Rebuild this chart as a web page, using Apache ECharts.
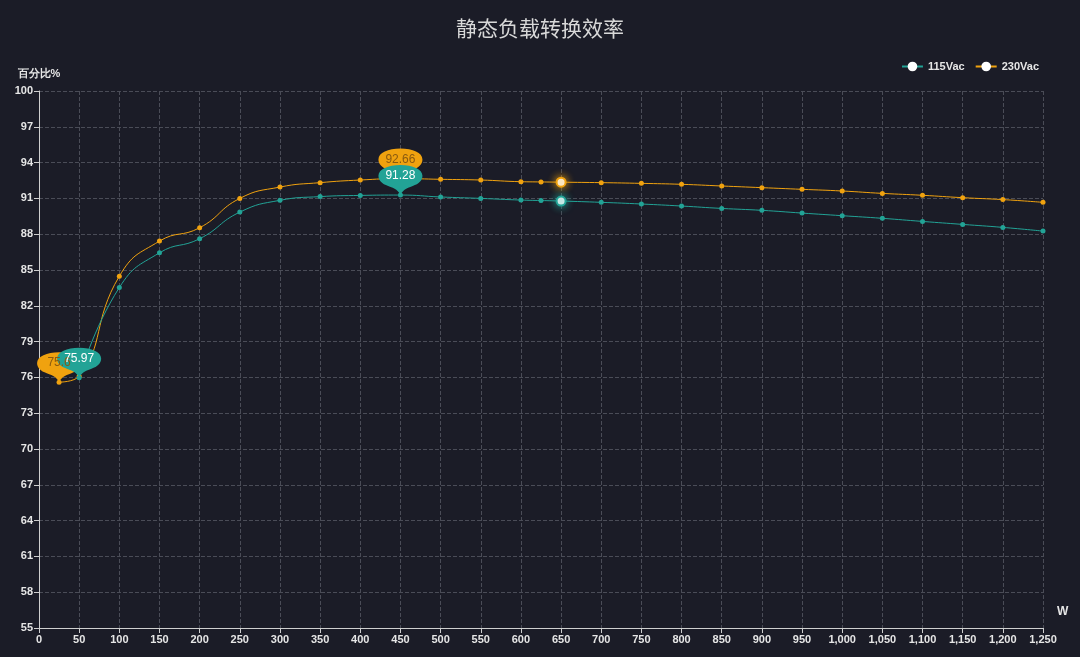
<!DOCTYPE html>
<html>
<head>
<meta charset="utf-8">
<script src="https://cdn.jsdelivr.net/npm/echarts@6/dist/echarts.min.js"></script>
<style>
  html, body { margin: 0; padding: 0; background: #1b1c27; }
  #main { width: 1080px; height: 657px; }
</style>
</head>
<body>
<div id="main"></div>
<script>
// 负载 (W)
var loadW = [25, 50, 100, 150, 200, 250, 300, 350, 400, 450, 500, 550, 600, 625, 650,
  700, 750, 800, 850, 900, 950, 1000, 1050, 1100, 1150, 1200, 1250];
// 115Vac 效率 (无 25W 点)
var eff115 = [null, 75.97, 83.53, 86.44, 87.62, 89.85, 90.84, 91.15, 91.25, 91.28, 91.12, 91.0, 90.86, 90.82, 90.78,
  90.67, 90.53, 90.36, 90.16, 90.0, 89.77, 89.55, 89.33, 89.07, 88.82, 88.57, 88.26];
// 230Vac 效率
var eff230 = [75.6, 76.1, 84.48, 87.42, 88.54, 91.0, 91.95, 92.32, 92.54, 92.66, 92.6, 92.54, 92.4, 92.38, 92.36,
  92.32, 92.26, 92.18, 92.04, 91.9, 91.76, 91.62, 91.42, 91.26, 91.06, 90.9, 90.67];
var seriesNames = ['115Vac', '230Vac'];
var colors = ['#22a396', '#f0a20f'];
var labelColors = ['#ffffff', '#8a5a10'];
var hoverW = 650;

// 扁平的气泡标记
var pinPath = 'path://M50 100 C46 86 38 78 22 70 C8 63 0 52 0 36 C0 14 22 0 50 0 C78 0 100 14 100 36 C100 52 92 63 78 70 C62 78 54 86 50 100 Z';

function buildData(vals, color) {
  var out = [];
  for (var i = 0; i < loadW.length; i++) {
    if (vals[i] == null) continue;
    var item = { value: [loadW[i], vals[i]] };
    if (color && loadW[i] === hoverW) {
      item.symbolSize = 9;
      item.itemStyle = { color: '#fff', borderColor: color, borderWidth: 2, shadowBlur: 8, shadowColor: color };
    }
    out.push(item);
  }
  return out;
}

function pinMarks(idx, labelOnly) {
  return {
    symbol: pinPath,
    symbolSize: [44, 30],
    symbolOffset: [0, '-50%'],
    z: labelOnly ? 10 : 5,
    itemStyle: { color: labelOnly ? 'rgba(0,0,0,0)' : colors[idx] },
    label: { show: labelOnly, color: labelColors[idx], fontSize: 12, offset: [0, -4] },
    data: [{ type: 'max', name: '最大值' }, { type: 'min', name: '最小值' }]
  };
}

function makeSeries(idx, vals) {
  return {
    name: seriesNames[idx],
    type: 'line',
    smooth: true,
    symbol: 'circle',
    symbolSize: 5,
    itemStyle: { color: colors[idx] },
    lineStyle: { width: 1, color: colors[idx] },
    data: buildData(vals, colors[idx]),
    markPoint: pinMarks(idx, false)
  };
}

// 只画气泡里的数字, 让两个气泡的文字都在最上层
function labelLayer(idx, vals) {
  return {
    name: seriesNames[idx] + '-label',
    type: 'line',
    silent: true,
    symbol: 'none',
    lineStyle: { opacity: 0 },
    data: buildData(vals, null),
    markPoint: pinMarks(idx, true)
  };
}

var chart = echarts.init(document.getElementById('main'));

var option = {
  backgroundColor: '#1b1c27',
  color: colors,
  title: {
    text: '静态负载转换效率',
    left: 'center',
    top: 13,
    textStyle: { color: '#d8d8d8', fontSize: 21, fontWeight: 'normal', fontFamily: 'Noto Sans CJK SC' }
  },
  legend: {
    data: seriesNames,
    right: 36,
    top: 56,
    itemWidth: 21,
    itemHeight: 12,
    itemGap: 10,
    itemStyle: { color: '#fff', borderColor: 'inherit', borderWidth: 2 },
    textStyle: { color: '#e6e6e6', fontSize: 11, fontWeight: 'bold' }
  },
  grid: {
    left: 39,
    right: 37,
    top: 91,
    bottom: 29
  },
  xAxis: {
    type: 'value',
    name: 'W',
    min: 0,
    max: 1250,
    interval: 50,
    nameGap: 14,
    nameTextStyle: { color: '#e6e6e6', fontSize: 12, fontWeight: 'bold', verticalAlign: 'bottom', padding: [0, 0, 10, 0] },
    axisLine: { lineStyle: { color: '#cfcfcf' } },
    axisTick: { lineStyle: { color: '#cfcfcf' } },
    axisLabel: { color: '#e6e6e6', fontSize: 11, margin: 6, fontWeight: 'bold' },
    splitLine: { show: true, lineStyle: { color: '#4a4c57', type: 'dashed' } }
  },
  yAxis: {
    type: 'value',
    name: '百分比%',
    min: 55,
    max: 100,
    interval: 3,
    nameGap: 12,
    nameTextStyle: { color: '#e6e6e6', fontSize: 11, fontWeight: 'bold', align: 'center' },
    axisLine: { show: true, lineStyle: { color: '#cfcfcf' } },
    axisTick: { show: true, lineStyle: { color: '#cfcfcf' } },
    axisLabel: { color: '#e6e6e6', fontSize: 11, margin: 6, fontWeight: 'bold' },
    splitLine: { show: true, lineStyle: { color: '#4a4c57', type: 'dashed' } }
  },
  // 230Vac 先画，115Vac 的气泡叠在上面
  series: [
    makeSeries(1, eff230),
    makeSeries(0, eff115),
    labelLayer(1, eff230),
    labelLayer(0, eff115)
  ]
};

chart.setOption(option);
</script>
</body>
</html>
